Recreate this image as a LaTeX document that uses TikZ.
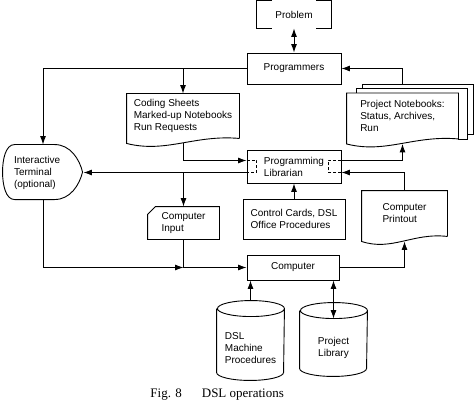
\documentclass[tikz,border=0pt]{standalone}
\usepackage{fontspec}
\setmainfont{Liberation Sans}
\newfontfamily\captionfont{Liberation Serif}
\usetikzlibrary{positioning,arrows.meta,calc}

% outlines drawn around named nodes
\newcommand{\docoutline}[1]{%
  \draw (#1.south east) -- (#1.north east) -- (#1.north west)
    -- ([yshift=-5pt]#1.south west)
    .. controls ($(#1.south west)!0.35!(#1.south east)+(0pt,-15pt)$)
    and ($(#1.south west)!0.6!(#1.south east)+(0pt,4pt)$) .. (#1.south east);}
\newcommand{\cardoutline}[1]{%
  \draw (#1.north east) -- (#1.south east) -- (#1.south west)
    -- ([yshift=-8pt]#1.north west) -- ([xshift=8pt]#1.north west) -- cycle;}
\newcommand{\drumoutline}[1]{%
  \draw ([yshift=8pt]#1.north west) -- ([yshift=8pt]#1.south west)
    arc[start angle=180,end angle=360,x radius=33.5pt,y radius=8pt]
    -- ([yshift=8pt]#1.north east)
    arc[start angle=0,end angle=360,x radius=33.5pt,y radius=8pt];}

\begin{document}
\begin{tikzpicture}[x=1pt,y=-1pt,line width=0.9pt,
  >={Latex[length=8.5pt,width=6pt]},
  every node/.style={font=\fontsize{10}{12}\selectfont},
  box/.style={draw,align=left,inner sep=2pt},
  paper/.style={align=left,inner sep=2pt},
  inner/.style={dashed,dash pattern=on 3pt off 2pt}]
\fill[white] (0,0) rectangle (474,401);
\useasboundingbox (0,0) rectangle (474,401);

% Problem
\node[minimum width=74pt,minimum height=27pt] (problem) at (294,14.5) {Problem};
\draw ([xshift=15pt]problem.north west) -- (problem.north west) -- (problem.south west) -- ([xshift=15pt]problem.south west);
\draw ([xshift=-15pt]problem.north east) -- (problem.north east) -- (problem.south east) -- ([xshift=-15pt]problem.south east);

% Programmers and their papers
\node[box,minimum width=94pt,minimum height=31pt] (prog) at (294,68.5) {Programmers};
\node[paper,minimum width=112pt,minimum height=44pt] (coding) at (183,116) {Coding Sheets\\Marked-up Notebooks\\Run Requests};
\docoutline{coding}
\node[paper,minimum width=111pt,minimum height=45pt] (nb) at (402.5,116) {Project Notebooks:\\Status, Archives,\\Run};
\docoutline{nb}
\draw ([xshift=10pt]nb.north west) -- ([xshift=10pt,yshift=5pt]nb.north west) -- ([xshift=9pt,yshift=5pt]nb.north east) -- ([xshift=9pt,yshift=-1pt]nb.south east) -- ([yshift=-1pt]nb.south east);
\draw ([xshift=16pt,yshift=5pt]nb.north west) -- ([xshift=16pt,yshift=9pt]nb.north west) -- ([xshift=15pt,yshift=9pt]nb.north east) -- ([xshift=15pt,yshift=4pt]nb.south east) -- ([xshift=9pt,yshift=4pt]nb.south east);

% Librarian
\node[box,minimum width=94pt,minimum height=33pt] (lib) at (294,166.5) {Programming\\Librarian};
\draw[inner] ([yshift=6pt]lib.west) -- ++(10,0) |- ([yshift=-6pt]lib.west);
\draw[inner] ([yshift=-6pt]lib.east) -- ++(-13,0) |- ([yshift=6pt]lib.east);

% Interactive terminal
\node[align=left,text width=58pt,minimum width=80pt,minimum height=55pt,inner sep=0pt] (term) at (43,172.5) {Interactive\\Terminal\\(optional)};
\begin{scope}[shift={(term.north west)}]
\draw (12,0) -- (52,0) .. controls (68,0) and (77,15) .. (80,27.5) .. controls (77,40) and (68,55) .. (52,55) -- (12,55) .. controls (3,55) and (0,40) .. (0,27.5) .. controls (0,15) and (3,0) .. (12,0) -- cycle;
\end{scope}

% Inputs and outputs
\node[paper,minimum width=71pt,minimum height=32pt] (cin) at (183.5,223) {Computer\\Input};
\cardoutline{cin}
\node[box,minimum width=102pt,minimum height=40pt] (ctrl) at (294,219) {Control Cards, DSL\\Office Procedures};
\node[paper,minimum width=85pt,minimum height=45pt] (cpr) at (404.5,213.5) {Computer\\Printout};
\docoutline{cpr}
\node[box,minimum width=92pt,minimum height=25pt] (comp) at (293,267.5) {Computer};

% Libraries
\node[align=left,minimum width=67pt,minimum height=63pt] (dsl) at (250.5,348.5) {DSL\\Machine\\Procedures};
\drumoutline{dsl}
\node[align=center,minimum width=67pt,minimum height=57pt] (plib) at (333.5,347.5) {Project\\Library};
\drumoutline{plib}

% Flows
\draw[<->] (problem.south) -- (prog.north);
\draw[->] (prog.west) -| (term.north);
\draw[->] (coding.north |- prog.west) -- (coding.north);
\draw[->] ([yshift=-5pt]coding.south) |- ([yshift=6pt]lib.west);
\draw[->] ([yshift=-6pt]lib.west) -- (term.east);
\draw[->] (cin.north |- term.east) -- (cin.north);
\draw[->] (term.south) |- (cin.south |- comp.west);
\draw[->] (cin.south) |- (comp.west);
\draw[->] (ctrl.north) -- (lib.south);
\draw[->] (cpr.north) |- ([yshift=-6pt]lib.east);
\draw[->] ([yshift=6pt]lib.east) -| ([yshift=-5pt]nb.south);
\draw[->] ([yshift=9pt]nb.north) |- (prog.east);
\draw[->] (comp.east) -| ([yshift=-5pt]cpr.south);
\draw[->] ([yshift=16pt]dsl.north) -- (dsl.north |- comp.south);
\draw[<->] (plib.north |- comp.south) -- (plib.north);

% Caption
\node[font=\captionfont\fontsize{13}{15}\selectfont,anchor=base west,inner sep=0pt] (caption) at (150,397) {Fig. 8\hspace{20pt}DSL operations};
\end{tikzpicture}
\end{document}
